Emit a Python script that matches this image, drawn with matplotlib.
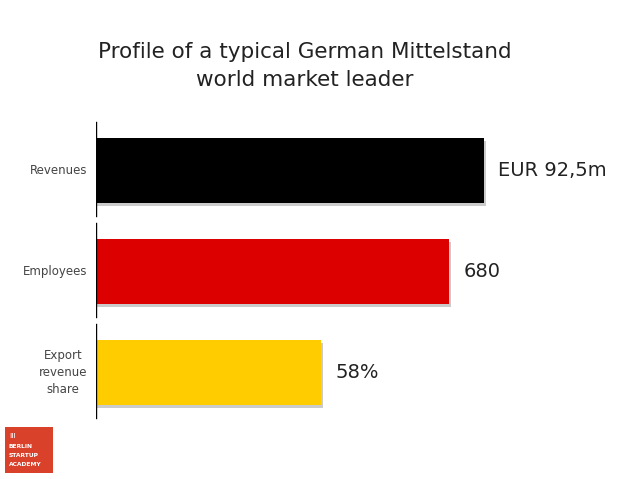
import matplotlib
matplotlib.use("Agg")
import matplotlib.pyplot as plt
from matplotlib.patches import Rectangle

categories = ["Revenues", "Employees", "Export\nrevenue\nshare"]
bar_lengths = [100, 91, 58]
value_labels = ["EUR 92,5m", "680", "58%"]
colors = ["#000000", "#dd0000", "#ffcc00"]

W, H = 638, 479
fig = plt.figure(figsize=(W/100, H/100), dpi=100)
ax = fig.add_axes([96/W, 1-423/H, 504/W, 303/H])
ax.set_xlim(0, 130)
ax.set_ylim(2.5, -0.5)
ax.axis("off")
ys = list(range(len(categories)))
# shadows
ax.barh([y+0.03 for y in ys], [b+0.6 for b in bar_lengths], height=0.65, color="#999999", alpha=0.5, zorder=1)
ax.barh(ys, bar_lengths, height=0.65, color=colors, zorder=2)
for y, b, lab, c in zip(ys, bar_lengths, value_labels, categories):
    ax.plot([0, 0], [y-0.48, y+0.45], color="black", lw=1, zorder=3)
    ax.text(b+3.8, y, lab, fontsize=14, va="center", ha="left", color="#222222")
    ax.text(-2.3, y, c, fontsize=8.5, va="center", ha="right", color="#444444", multialignment="center", linespacing=1.4)
fig.text(305/W, 1-52/H, "Profile of a typical German Mittelstand", fontsize=15.5, ha="center", va="center", color="#222222")
fig.text(305/W, 1-80/H, "world market leader", fontsize=15.5, ha="center", va="center", color="#222222")
# logo
lax = fig.add_axes([5/W, 1-473/H, 48/W, 46/H])
lax.add_patch(Rectangle((0, 0), 1, 1, color="#d9412b"))
lax.set_xlim(0, 1); lax.set_ylim(0, 1); lax.axis("off")
lax.text(0.08, 0.82, "|||", fontsize=4.5, color="white", va="center", fontweight="bold")
for i, t in enumerate(["BERLIN", "STARTUP", "ACADEMY"]):
    lax.text(0.08, 0.58-0.2*i, t, fontsize=4.3, color="white", va="center", fontweight="bold")
fig.savefig("out.png", dpi=100)
